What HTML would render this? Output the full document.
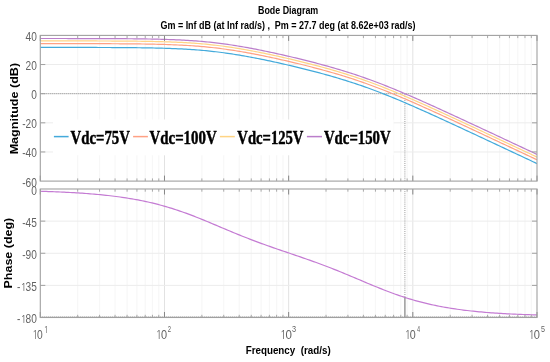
<!DOCTYPE html>
<html><head><meta charset="utf-8"><title>Bode Diagram</title>
<style>html,body{margin:0;padding:0;background:#fff;overflow:hidden}svg{display:block}</style>
</head><body>
<svg width="550" height="362" viewBox="0 0 550 362">
<rect width="550" height="362" fill="#fff"/>
<defs><clipPath id="c1"><rect x="40.3" y="35.4" width="496.70" height="145.70"/></clipPath><clipPath id="c2"><rect x="40.3" y="189.0" width="496.70" height="128.50"/></clipPath></defs>
<line x1="77.68" y1="35.4" x2="77.68" y2="181.1" stroke="#f7f7f7" stroke-width="1.2"/>
<line x1="99.55" y1="35.4" x2="99.55" y2="181.1" stroke="#f7f7f7" stroke-width="1.2"/>
<line x1="115.06" y1="35.4" x2="115.06" y2="181.1" stroke="#f7f7f7" stroke-width="1.2"/>
<line x1="127.09" y1="35.4" x2="127.09" y2="181.1" stroke="#f7f7f7" stroke-width="1.2"/>
<line x1="136.93" y1="35.4" x2="136.93" y2="181.1" stroke="#f7f7f7" stroke-width="1.2"/>
<line x1="145.24" y1="35.4" x2="145.24" y2="181.1" stroke="#f7f7f7" stroke-width="1.2"/>
<line x1="152.44" y1="35.4" x2="152.44" y2="181.1" stroke="#f7f7f7" stroke-width="1.2"/>
<line x1="158.79" y1="35.4" x2="158.79" y2="181.1" stroke="#f7f7f7" stroke-width="1.2"/>
<line x1="201.86" y1="35.4" x2="201.86" y2="181.1" stroke="#f7f7f7" stroke-width="1.2"/>
<line x1="223.72" y1="35.4" x2="223.72" y2="181.1" stroke="#f7f7f7" stroke-width="1.2"/>
<line x1="239.24" y1="35.4" x2="239.24" y2="181.1" stroke="#f7f7f7" stroke-width="1.2"/>
<line x1="251.27" y1="35.4" x2="251.27" y2="181.1" stroke="#f7f7f7" stroke-width="1.2"/>
<line x1="261.10" y1="35.4" x2="261.10" y2="181.1" stroke="#f7f7f7" stroke-width="1.2"/>
<line x1="269.42" y1="35.4" x2="269.42" y2="181.1" stroke="#f7f7f7" stroke-width="1.2"/>
<line x1="276.62" y1="35.4" x2="276.62" y2="181.1" stroke="#f7f7f7" stroke-width="1.2"/>
<line x1="282.97" y1="35.4" x2="282.97" y2="181.1" stroke="#f7f7f7" stroke-width="1.2"/>
<line x1="326.03" y1="35.4" x2="326.03" y2="181.1" stroke="#f7f7f7" stroke-width="1.2"/>
<line x1="347.90" y1="35.4" x2="347.90" y2="181.1" stroke="#f7f7f7" stroke-width="1.2"/>
<line x1="363.41" y1="35.4" x2="363.41" y2="181.1" stroke="#f7f7f7" stroke-width="1.2"/>
<line x1="375.44" y1="35.4" x2="375.44" y2="181.1" stroke="#f7f7f7" stroke-width="1.2"/>
<line x1="385.28" y1="35.4" x2="385.28" y2="181.1" stroke="#f7f7f7" stroke-width="1.2"/>
<line x1="393.59" y1="35.4" x2="393.59" y2="181.1" stroke="#f7f7f7" stroke-width="1.2"/>
<line x1="400.79" y1="35.4" x2="400.79" y2="181.1" stroke="#f7f7f7" stroke-width="1.2"/>
<line x1="407.14" y1="35.4" x2="407.14" y2="181.1" stroke="#f7f7f7" stroke-width="1.2"/>
<line x1="450.21" y1="35.4" x2="450.21" y2="181.1" stroke="#f7f7f7" stroke-width="1.2"/>
<line x1="472.07" y1="35.4" x2="472.07" y2="181.1" stroke="#f7f7f7" stroke-width="1.2"/>
<line x1="487.59" y1="35.4" x2="487.59" y2="181.1" stroke="#f7f7f7" stroke-width="1.2"/>
<line x1="499.62" y1="35.4" x2="499.62" y2="181.1" stroke="#f7f7f7" stroke-width="1.2"/>
<line x1="509.45" y1="35.4" x2="509.45" y2="181.1" stroke="#f7f7f7" stroke-width="1.2"/>
<line x1="517.77" y1="35.4" x2="517.77" y2="181.1" stroke="#f7f7f7" stroke-width="1.2"/>
<line x1="524.97" y1="35.4" x2="524.97" y2="181.1" stroke="#f7f7f7" stroke-width="1.2"/>
<line x1="531.32" y1="35.4" x2="531.32" y2="181.1" stroke="#f7f7f7" stroke-width="1.2"/>
<line x1="164.47" y1="35.4" x2="164.47" y2="181.1" stroke="#e2e2e2" stroke-width="1"/>
<line x1="288.65" y1="35.4" x2="288.65" y2="181.1" stroke="#e2e2e2" stroke-width="1"/>
<line x1="412.82" y1="35.4" x2="412.82" y2="181.1" stroke="#e2e2e2" stroke-width="1"/>
<line x1="40.3" y1="64.54" x2="537.0" y2="64.54" stroke="#ececec" stroke-width="1"/>
<line x1="40.3" y1="93.68" x2="537.0" y2="93.68" stroke="#ececec" stroke-width="1"/>
<line x1="40.3" y1="122.82" x2="537.0" y2="122.82" stroke="#ececec" stroke-width="1"/>
<line x1="40.3" y1="151.96" x2="537.0" y2="151.96" stroke="#ececec" stroke-width="1"/>
<line x1="77.68" y1="189.0" x2="77.68" y2="317.5" stroke="#f7f7f7" stroke-width="1.2"/>
<line x1="99.55" y1="189.0" x2="99.55" y2="317.5" stroke="#f7f7f7" stroke-width="1.2"/>
<line x1="115.06" y1="189.0" x2="115.06" y2="317.5" stroke="#f7f7f7" stroke-width="1.2"/>
<line x1="127.09" y1="189.0" x2="127.09" y2="317.5" stroke="#f7f7f7" stroke-width="1.2"/>
<line x1="136.93" y1="189.0" x2="136.93" y2="317.5" stroke="#f7f7f7" stroke-width="1.2"/>
<line x1="145.24" y1="189.0" x2="145.24" y2="317.5" stroke="#f7f7f7" stroke-width="1.2"/>
<line x1="152.44" y1="189.0" x2="152.44" y2="317.5" stroke="#f7f7f7" stroke-width="1.2"/>
<line x1="158.79" y1="189.0" x2="158.79" y2="317.5" stroke="#f7f7f7" stroke-width="1.2"/>
<line x1="201.86" y1="189.0" x2="201.86" y2="317.5" stroke="#f7f7f7" stroke-width="1.2"/>
<line x1="223.72" y1="189.0" x2="223.72" y2="317.5" stroke="#f7f7f7" stroke-width="1.2"/>
<line x1="239.24" y1="189.0" x2="239.24" y2="317.5" stroke="#f7f7f7" stroke-width="1.2"/>
<line x1="251.27" y1="189.0" x2="251.27" y2="317.5" stroke="#f7f7f7" stroke-width="1.2"/>
<line x1="261.10" y1="189.0" x2="261.10" y2="317.5" stroke="#f7f7f7" stroke-width="1.2"/>
<line x1="269.42" y1="189.0" x2="269.42" y2="317.5" stroke="#f7f7f7" stroke-width="1.2"/>
<line x1="276.62" y1="189.0" x2="276.62" y2="317.5" stroke="#f7f7f7" stroke-width="1.2"/>
<line x1="282.97" y1="189.0" x2="282.97" y2="317.5" stroke="#f7f7f7" stroke-width="1.2"/>
<line x1="326.03" y1="189.0" x2="326.03" y2="317.5" stroke="#f7f7f7" stroke-width="1.2"/>
<line x1="347.90" y1="189.0" x2="347.90" y2="317.5" stroke="#f7f7f7" stroke-width="1.2"/>
<line x1="363.41" y1="189.0" x2="363.41" y2="317.5" stroke="#f7f7f7" stroke-width="1.2"/>
<line x1="375.44" y1="189.0" x2="375.44" y2="317.5" stroke="#f7f7f7" stroke-width="1.2"/>
<line x1="385.28" y1="189.0" x2="385.28" y2="317.5" stroke="#f7f7f7" stroke-width="1.2"/>
<line x1="393.59" y1="189.0" x2="393.59" y2="317.5" stroke="#f7f7f7" stroke-width="1.2"/>
<line x1="400.79" y1="189.0" x2="400.79" y2="317.5" stroke="#f7f7f7" stroke-width="1.2"/>
<line x1="407.14" y1="189.0" x2="407.14" y2="317.5" stroke="#f7f7f7" stroke-width="1.2"/>
<line x1="450.21" y1="189.0" x2="450.21" y2="317.5" stroke="#f7f7f7" stroke-width="1.2"/>
<line x1="472.07" y1="189.0" x2="472.07" y2="317.5" stroke="#f7f7f7" stroke-width="1.2"/>
<line x1="487.59" y1="189.0" x2="487.59" y2="317.5" stroke="#f7f7f7" stroke-width="1.2"/>
<line x1="499.62" y1="189.0" x2="499.62" y2="317.5" stroke="#f7f7f7" stroke-width="1.2"/>
<line x1="509.45" y1="189.0" x2="509.45" y2="317.5" stroke="#f7f7f7" stroke-width="1.2"/>
<line x1="517.77" y1="189.0" x2="517.77" y2="317.5" stroke="#f7f7f7" stroke-width="1.2"/>
<line x1="524.97" y1="189.0" x2="524.97" y2="317.5" stroke="#f7f7f7" stroke-width="1.2"/>
<line x1="531.32" y1="189.0" x2="531.32" y2="317.5" stroke="#f7f7f7" stroke-width="1.2"/>
<line x1="164.47" y1="189.0" x2="164.47" y2="317.5" stroke="#e2e2e2" stroke-width="1"/>
<line x1="288.65" y1="189.0" x2="288.65" y2="317.5" stroke="#e2e2e2" stroke-width="1"/>
<line x1="412.82" y1="189.0" x2="412.82" y2="317.5" stroke="#e2e2e2" stroke-width="1"/>
<line x1="40.3" y1="221.12" x2="537.0" y2="221.12" stroke="#ececec" stroke-width="1"/>
<line x1="40.3" y1="253.25" x2="537.0" y2="253.25" stroke="#ececec" stroke-width="1"/>
<line x1="40.3" y1="285.38" x2="537.0" y2="285.38" stroke="#ececec" stroke-width="1"/>
<line x1="40.3" y1="93.68" x2="537.0" y2="93.68" stroke="#8a8a8a" stroke-width="1" stroke-dasharray="1,1"/>
<line x1="404.9" y1="93.68" x2="404.9" y2="181.1" stroke="#999" stroke-width="1" stroke-dasharray="1,1.1"/>
<line x1="404.9" y1="189.0" x2="404.9" y2="297.73" stroke="#999" stroke-width="1" stroke-dasharray="1,1.1"/>
<line x1="40.3" y1="316.9" x2="537.0" y2="316.9" stroke="#8a8a8a" stroke-width="1" stroke-dasharray="1,1"/>
<g clip-path="url(#c1)" fill="none" stroke-width="1.2">
<polyline points="40.30,47.41 42.29,47.41 44.29,47.41 46.28,47.41 48.28,47.41 50.27,47.41 52.27,47.41 54.26,47.42 56.26,47.42 58.25,47.42 60.25,47.42 62.24,47.42 64.24,47.42 66.23,47.42 68.23,47.43 70.22,47.43 72.22,47.43 74.21,47.43 76.21,47.44 78.20,47.44 80.20,47.44 82.19,47.44 84.19,47.45 86.18,47.45 88.17,47.45 90.17,47.46 92.16,47.46 94.16,47.47 96.15,47.47 98.15,47.48 100.14,47.49 102.14,47.49 104.13,47.50 106.13,47.51 108.12,47.51 110.12,47.52 112.11,47.53 114.11,47.54 116.10,47.55 118.10,47.57 120.09,47.58 122.09,47.59 124.08,47.61 126.08,47.62 128.07,47.64 130.07,47.66 132.06,47.67 134.05,47.70 136.05,47.72 138.04,47.74 140.04,47.77 142.03,47.79 144.03,47.82 146.02,47.85 148.02,47.89 150.01,47.92 152.01,47.96 154.00,48.00 156.00,48.05 157.99,48.10 159.99,48.15 161.98,48.20 163.98,48.26 165.97,48.32 167.97,48.38 169.96,48.45 171.96,48.53 173.95,48.61 175.94,48.69 177.94,48.78 179.93,48.87 181.93,48.97 183.92,49.08 185.92,49.19 187.91,49.31 189.91,49.44 191.90,49.57 193.90,49.71 195.89,49.86 197.89,50.01 199.88,50.17 201.88,50.34 203.87,50.52 205.87,50.71 207.86,50.90 209.86,51.11 211.85,51.32 213.85,51.54 215.84,51.77 217.84,52.01 219.83,52.26 221.82,52.52 223.82,52.78 225.81,53.05 227.81,53.34 229.80,53.63 231.80,53.93 233.79,54.23 235.79,54.55 237.78,54.87 239.78,55.21 241.77,55.54 243.77,55.89 245.76,56.24 247.76,56.60 249.75,56.97 251.75,57.34 253.74,57.72 255.74,58.11 257.73,58.50 259.73,58.90 261.72,59.30 263.72,59.71 265.71,60.12 267.70,60.54 269.70,60.96 271.69,61.39 273.69,61.82 275.68,62.26 277.68,62.70 279.67,63.14 281.67,63.59 283.66,64.05 285.66,64.50 287.65,64.97 289.65,65.43 291.64,65.90 293.64,66.37 295.63,66.85 297.63,67.33 299.62,67.82 301.62,68.31 303.61,68.80 305.61,69.30 307.60,69.81 309.60,70.32 311.59,70.83 313.58,71.35 315.58,71.87 317.57,72.40 319.57,72.93 321.56,73.47 323.56,74.02 325.55,74.57 327.55,75.12 329.54,75.69 331.54,76.26 333.53,76.83 335.53,77.41 337.52,78.00 339.52,78.60 341.51,79.20 343.51,79.82 345.50,80.43 347.50,81.06 349.49,81.70 351.49,82.34 353.48,82.99 355.48,83.66 357.47,84.32 359.46,85.00 361.46,85.69 363.45,86.39 365.45,87.09 367.44,87.80 369.44,88.53 371.43,89.26 373.43,90.00 375.42,90.74 377.42,91.50 379.41,92.26 381.41,93.04 383.40,93.82 385.40,94.61 387.39,95.40 389.39,96.20 391.38,97.01 393.38,97.83 395.37,98.65 397.37,99.48 399.36,100.32 401.36,101.16 403.35,102.01 405.34,102.86 407.34,103.72 409.33,104.58 411.33,105.45 413.32,106.32 415.32,107.20 417.31,108.08 419.31,108.96 421.30,109.85 423.30,110.74 425.29,111.63 427.29,112.52 429.28,113.42 431.28,114.33 433.27,115.23 435.27,116.14 437.26,117.04 439.26,117.96 441.25,118.87 443.25,119.78 445.24,120.70 447.23,121.62 449.23,122.53 451.22,123.45 453.22,124.38 455.21,125.30 457.21,126.22 459.20,127.15 461.20,128.07 463.19,129.00 465.19,129.93 467.18,130.86 469.18,131.78 471.17,132.71 473.17,133.64 475.16,134.58 477.16,135.51 479.15,136.44 481.15,137.37 483.14,138.30 485.14,139.24 487.13,140.17 489.13,141.11 491.12,142.04 493.11,142.98 495.11,143.91 497.10,144.85 499.10,145.78 501.09,146.72 503.09,147.65 505.08,148.59 507.08,149.53 509.07,150.46 511.07,151.40 513.06,152.34 515.06,153.27 517.05,154.21 519.05,155.15 521.04,156.08 523.04,157.02 525.03,157.96 527.03,158.90 529.02,159.83 531.02,160.77 533.01,161.71 535.01,162.65 537.00,163.59" stroke="#44aadb"/>
<polyline points="40.30,43.61 42.29,43.61 44.29,43.61 46.28,43.61 48.28,43.61 50.27,43.61 52.27,43.61 54.26,43.62 56.26,43.62 58.25,43.62 60.25,43.62 62.24,43.62 64.24,43.62 66.23,43.62 68.23,43.63 70.22,43.63 72.22,43.63 74.21,43.63 76.21,43.64 78.20,43.64 80.20,43.64 82.19,43.64 84.19,43.65 86.18,43.65 88.17,43.65 90.17,43.66 92.16,43.66 94.16,43.67 96.15,43.67 98.15,43.68 100.14,43.69 102.14,43.69 104.13,43.70 106.13,43.71 108.12,43.71 110.12,43.72 112.11,43.73 114.11,43.74 116.10,43.75 118.10,43.77 120.09,43.78 122.09,43.79 124.08,43.81 126.08,43.82 128.07,43.84 130.07,43.86 132.06,43.87 134.05,43.90 136.05,43.92 138.04,43.94 140.04,43.97 142.03,43.99 144.03,44.02 146.02,44.05 148.02,44.09 150.01,44.12 152.01,44.16 154.00,44.20 156.00,44.25 157.99,44.30 159.99,44.35 161.98,44.40 163.98,44.46 165.97,44.52 167.97,44.58 169.96,44.65 171.96,44.73 173.95,44.81 175.94,44.89 177.94,44.98 179.93,45.07 181.93,45.17 183.92,45.28 185.92,45.39 187.91,45.51 189.91,45.64 191.90,45.77 193.90,45.91 195.89,46.06 197.89,46.21 199.88,46.37 201.88,46.54 203.87,46.72 205.87,46.91 207.86,47.10 209.86,47.31 211.85,47.52 213.85,47.74 215.84,47.97 217.84,48.21 219.83,48.46 221.82,48.72 223.82,48.98 225.81,49.25 227.81,49.54 229.80,49.83 231.80,50.13 233.79,50.43 235.79,50.75 237.78,51.07 239.78,51.41 241.77,51.74 243.77,52.09 245.76,52.44 247.76,52.80 249.75,53.17 251.75,53.54 253.74,53.92 255.74,54.31 257.73,54.70 259.73,55.10 261.72,55.50 263.72,55.91 265.71,56.32 267.70,56.74 269.70,57.16 271.69,57.59 273.69,58.02 275.68,58.46 277.68,58.90 279.67,59.34 281.67,59.79 283.66,60.25 285.66,60.70 287.65,61.17 289.65,61.63 291.64,62.10 293.64,62.57 295.63,63.05 297.63,63.53 299.62,64.02 301.62,64.51 303.61,65.00 305.61,65.50 307.60,66.01 309.60,66.52 311.59,67.03 313.58,67.55 315.58,68.07 317.57,68.60 319.57,69.13 321.56,69.67 323.56,70.22 325.55,70.77 327.55,71.32 329.54,71.89 331.54,72.46 333.53,73.03 335.53,73.61 337.52,74.20 339.52,74.80 341.51,75.40 343.51,76.02 345.50,76.63 347.50,77.26 349.49,77.90 351.49,78.54 353.48,79.19 355.48,79.86 357.47,80.52 359.46,81.20 361.46,81.89 363.45,82.59 365.45,83.29 367.44,84.00 369.44,84.73 371.43,85.46 373.43,86.20 375.42,86.94 377.42,87.70 379.41,88.46 381.41,89.24 383.40,90.02 385.40,90.81 387.39,91.60 389.39,92.40 391.38,93.21 393.38,94.03 395.37,94.85 397.37,95.68 399.36,96.52 401.36,97.36 403.35,98.21 405.34,99.06 407.34,99.92 409.33,100.78 411.33,101.65 413.32,102.52 415.32,103.40 417.31,104.28 419.31,105.16 421.30,106.05 423.30,106.94 425.29,107.83 427.29,108.72 429.28,109.62 431.28,110.53 433.27,111.43 435.27,112.34 437.26,113.24 439.26,114.16 441.25,115.07 443.25,115.98 445.24,116.90 447.23,117.82 449.23,118.73 451.22,119.65 453.22,120.58 455.21,121.50 457.21,122.42 459.20,123.35 461.20,124.27 463.19,125.20 465.19,126.13 467.18,127.06 469.18,127.98 471.17,128.91 473.17,129.84 475.16,130.78 477.16,131.71 479.15,132.64 481.15,133.57 483.14,134.50 485.14,135.44 487.13,136.37 489.13,137.31 491.12,138.24 493.11,139.18 495.11,140.11 497.10,141.05 499.10,141.98 501.09,142.92 503.09,143.85 505.08,144.79 507.08,145.73 509.07,146.66 511.07,147.60 513.06,148.54 515.06,149.47 517.05,150.41 519.05,151.35 521.04,152.28 523.04,153.22 525.03,154.16 527.03,155.10 529.02,156.03 531.02,156.97 533.01,157.91 535.01,158.85 537.00,159.79" stroke="#ffa184"/>
<polyline points="40.30,40.91 42.29,40.91 44.29,40.91 46.28,40.91 48.28,40.91 50.27,40.91 52.27,40.91 54.26,40.92 56.26,40.92 58.25,40.92 60.25,40.92 62.24,40.92 64.24,40.92 66.23,40.92 68.23,40.93 70.22,40.93 72.22,40.93 74.21,40.93 76.21,40.94 78.20,40.94 80.20,40.94 82.19,40.94 84.19,40.95 86.18,40.95 88.17,40.95 90.17,40.96 92.16,40.96 94.16,40.97 96.15,40.97 98.15,40.98 100.14,40.99 102.14,40.99 104.13,41.00 106.13,41.01 108.12,41.01 110.12,41.02 112.11,41.03 114.11,41.04 116.10,41.05 118.10,41.07 120.09,41.08 122.09,41.09 124.08,41.11 126.08,41.12 128.07,41.14 130.07,41.16 132.06,41.17 134.05,41.20 136.05,41.22 138.04,41.24 140.04,41.27 142.03,41.29 144.03,41.32 146.02,41.35 148.02,41.39 150.01,41.42 152.01,41.46 154.00,41.50 156.00,41.55 157.99,41.60 159.99,41.65 161.98,41.70 163.98,41.76 165.97,41.82 167.97,41.88 169.96,41.95 171.96,42.03 173.95,42.11 175.94,42.19 177.94,42.28 179.93,42.37 181.93,42.47 183.92,42.58 185.92,42.69 187.91,42.81 189.91,42.94 191.90,43.07 193.90,43.21 195.89,43.36 197.89,43.51 199.88,43.67 201.88,43.84 203.87,44.02 205.87,44.21 207.86,44.40 209.86,44.61 211.85,44.82 213.85,45.04 215.84,45.27 217.84,45.51 219.83,45.76 221.82,46.02 223.82,46.28 225.81,46.55 227.81,46.84 229.80,47.13 231.80,47.43 233.79,47.73 235.79,48.05 237.78,48.37 239.78,48.71 241.77,49.04 243.77,49.39 245.76,49.74 247.76,50.10 249.75,50.47 251.75,50.84 253.74,51.22 255.74,51.61 257.73,52.00 259.73,52.40 261.72,52.80 263.72,53.21 265.71,53.62 267.70,54.04 269.70,54.46 271.69,54.89 273.69,55.32 275.68,55.76 277.68,56.20 279.67,56.64 281.67,57.09 283.66,57.55 285.66,58.00 287.65,58.47 289.65,58.93 291.64,59.40 293.64,59.87 295.63,60.35 297.63,60.83 299.62,61.32 301.62,61.81 303.61,62.30 305.61,62.80 307.60,63.31 309.60,63.82 311.59,64.33 313.58,64.85 315.58,65.37 317.57,65.90 319.57,66.43 321.56,66.97 323.56,67.52 325.55,68.07 327.55,68.62 329.54,69.19 331.54,69.76 333.53,70.33 335.53,70.91 337.52,71.50 339.52,72.10 341.51,72.70 343.51,73.32 345.50,73.93 347.50,74.56 349.49,75.20 351.49,75.84 353.48,76.49 355.48,77.16 357.47,77.82 359.46,78.50 361.46,79.19 363.45,79.89 365.45,80.59 367.44,81.30 369.44,82.03 371.43,82.76 373.43,83.50 375.42,84.24 377.42,85.00 379.41,85.76 381.41,86.54 383.40,87.32 385.40,88.11 387.39,88.90 389.39,89.70 391.38,90.51 393.38,91.33 395.37,92.15 397.37,92.98 399.36,93.82 401.36,94.66 403.35,95.51 405.34,96.36 407.34,97.22 409.33,98.08 411.33,98.95 413.32,99.82 415.32,100.70 417.31,101.58 419.31,102.46 421.30,103.35 423.30,104.24 425.29,105.13 427.29,106.02 429.28,106.92 431.28,107.83 433.27,108.73 435.27,109.64 437.26,110.54 439.26,111.46 441.25,112.37 443.25,113.28 445.24,114.20 447.23,115.12 449.23,116.03 451.22,116.95 453.22,117.88 455.21,118.80 457.21,119.72 459.20,120.65 461.20,121.57 463.19,122.50 465.19,123.43 467.18,124.36 469.18,125.28 471.17,126.21 473.17,127.14 475.16,128.08 477.16,129.01 479.15,129.94 481.15,130.87 483.14,131.80 485.14,132.74 487.13,133.67 489.13,134.61 491.12,135.54 493.11,136.48 495.11,137.41 497.10,138.35 499.10,139.28 501.09,140.22 503.09,141.15 505.08,142.09 507.08,143.03 509.07,143.96 511.07,144.90 513.06,145.84 515.06,146.77 517.05,147.71 519.05,148.65 521.04,149.58 523.04,150.52 525.03,151.46 527.03,152.40 529.02,153.33 531.02,154.27 533.01,155.21 535.01,156.15 537.00,157.09" stroke="#ffd484"/>
<polyline points="40.30,38.51 42.29,38.51 44.29,38.51 46.28,38.51 48.28,38.51 50.27,38.51 52.27,38.51 54.26,38.52 56.26,38.52 58.25,38.52 60.25,38.52 62.24,38.52 64.24,38.52 66.23,38.52 68.23,38.53 70.22,38.53 72.22,38.53 74.21,38.53 76.21,38.54 78.20,38.54 80.20,38.54 82.19,38.54 84.19,38.55 86.18,38.55 88.17,38.55 90.17,38.56 92.16,38.56 94.16,38.57 96.15,38.57 98.15,38.58 100.14,38.59 102.14,38.59 104.13,38.60 106.13,38.61 108.12,38.61 110.12,38.62 112.11,38.63 114.11,38.64 116.10,38.65 118.10,38.67 120.09,38.68 122.09,38.69 124.08,38.71 126.08,38.72 128.07,38.74 130.07,38.76 132.06,38.77 134.05,38.80 136.05,38.82 138.04,38.84 140.04,38.87 142.03,38.89 144.03,38.92 146.02,38.95 148.02,38.99 150.01,39.02 152.01,39.06 154.00,39.10 156.00,39.15 157.99,39.20 159.99,39.25 161.98,39.30 163.98,39.36 165.97,39.42 167.97,39.48 169.96,39.55 171.96,39.63 173.95,39.71 175.94,39.79 177.94,39.88 179.93,39.97 181.93,40.07 183.92,40.18 185.92,40.29 187.91,40.41 189.91,40.54 191.90,40.67 193.90,40.81 195.89,40.96 197.89,41.11 199.88,41.27 201.88,41.44 203.87,41.62 205.87,41.81 207.86,42.00 209.86,42.21 211.85,42.42 213.85,42.64 215.84,42.87 217.84,43.11 219.83,43.36 221.82,43.62 223.82,43.88 225.81,44.15 227.81,44.44 229.80,44.73 231.80,45.03 233.79,45.33 235.79,45.65 237.78,45.97 239.78,46.31 241.77,46.64 243.77,46.99 245.76,47.34 247.76,47.70 249.75,48.07 251.75,48.44 253.74,48.82 255.74,49.21 257.73,49.60 259.73,50.00 261.72,50.40 263.72,50.81 265.71,51.22 267.70,51.64 269.70,52.06 271.69,52.49 273.69,52.92 275.68,53.36 277.68,53.80 279.67,54.24 281.67,54.69 283.66,55.15 285.66,55.60 287.65,56.07 289.65,56.53 291.64,57.00 293.64,57.47 295.63,57.95 297.63,58.43 299.62,58.92 301.62,59.41 303.61,59.90 305.61,60.40 307.60,60.90 309.60,61.41 311.59,61.92 313.58,62.43 315.58,62.95 317.57,63.48 319.57,64.01 321.56,64.55 323.56,65.09 325.55,65.64 327.55,66.19 329.54,66.75 331.54,67.32 333.53,67.89 335.53,68.47 337.52,69.06 339.52,69.65 341.51,70.25 343.51,70.86 345.50,71.48 347.50,72.10 349.49,72.74 351.49,73.38 353.48,74.03 355.48,74.68 357.47,75.35 359.46,76.03 361.46,76.71 363.45,77.41 365.45,78.11 367.44,78.82 369.44,79.54 371.43,80.27 373.43,81.00 375.42,81.75 377.42,82.50 379.41,83.26 381.41,84.03 383.40,84.81 385.40,85.60 387.39,86.39 389.39,87.19 391.38,88.00 393.38,88.81 395.37,89.63 397.37,90.46 399.36,91.29 401.36,92.13 403.35,92.98 405.34,93.83 407.34,94.68 409.33,95.54 411.33,96.41 413.32,97.28 415.32,98.15 417.31,99.03 419.31,99.91 421.30,100.79 423.30,101.68 425.29,102.57 427.29,103.46 429.28,104.36 431.28,105.26 433.27,106.16 435.27,107.06 437.26,107.97 439.26,108.88 441.25,109.79 443.25,110.70 445.24,111.61 447.23,112.53 449.23,113.45 451.22,114.36 453.22,115.28 455.21,116.20 457.21,117.12 459.20,118.05 461.20,118.97 463.19,119.89 465.19,120.82 467.18,121.74 469.18,122.67 471.17,123.60 473.17,124.53 475.16,125.45 477.16,126.38 479.15,127.31 481.15,128.24 483.14,129.17 485.14,130.10 487.13,131.04 489.13,131.97 491.12,132.90 493.11,133.83 495.11,134.76 497.10,135.70 499.10,136.63 501.09,137.56 503.09,138.50 505.08,139.43 507.08,140.36 509.07,141.30 511.07,142.23 513.06,143.17 515.06,144.10 517.05,145.03 519.05,145.97 521.04,146.90 523.04,147.84 525.03,148.77 527.03,149.71 529.02,150.64 531.02,151.58 533.01,152.51 535.01,153.45 537.00,154.39" stroke="#bb7ecb"/>
</g>
<g clip-path="url(#c2)" fill="none" stroke-width="1.2"><polyline points="40.30,191.27 42.29,191.33 44.29,191.40 46.28,191.46 48.28,191.53 50.27,191.60 52.27,191.67 54.26,191.75 56.26,191.83 58.25,191.91 60.25,192.00 62.24,192.09 64.24,192.18 66.23,192.28 68.23,192.38 70.22,192.49 72.22,192.60 74.21,192.72 76.21,192.84 78.20,192.96 80.20,193.09 82.19,193.22 84.19,193.36 86.18,193.51 88.17,193.66 90.17,193.82 92.16,193.98 94.16,194.15 96.15,194.32 98.15,194.50 100.14,194.69 102.14,194.89 104.13,195.09 106.13,195.31 108.12,195.52 110.12,195.75 112.11,195.99 114.11,196.23 116.10,196.49 118.10,196.75 120.09,197.02 122.09,197.31 124.08,197.60 126.08,197.90 128.07,198.22 130.07,198.54 132.06,198.88 134.05,199.23 136.05,199.59 138.04,199.96 140.04,200.35 142.03,200.74 144.03,201.16 146.02,201.58 148.02,202.02 150.01,202.47 152.01,202.94 154.00,203.42 156.00,203.92 157.99,204.43 159.99,204.96 161.98,205.50 163.98,206.05 165.97,206.63 167.97,207.21 169.96,207.82 171.96,208.43 173.95,209.07 175.94,209.71 177.94,210.38 179.93,211.06 181.93,211.75 183.92,212.45 185.92,213.17 187.91,213.91 189.91,214.65 191.90,215.41 193.90,216.18 195.89,216.96 197.89,217.75 199.88,218.55 201.88,219.36 203.87,220.17 205.87,220.99 207.86,221.82 209.86,222.65 211.85,223.49 213.85,224.33 215.84,225.17 217.84,226.02 219.83,226.86 221.82,227.70 223.82,228.54 225.81,229.38 227.81,230.22 229.80,231.06 231.80,231.88 233.79,232.71 235.79,233.53 237.78,234.34 239.78,235.15 241.77,235.95 243.77,236.74 245.76,237.53 247.76,238.31 249.75,239.08 251.75,239.85 253.74,240.61 255.74,241.36 257.73,242.10 259.73,242.84 261.72,243.57 263.72,244.29 265.71,245.01 267.70,245.72 269.70,246.42 271.69,247.12 273.69,247.82 275.68,248.51 277.68,249.20 279.67,249.89 281.67,250.57 283.66,251.25 285.66,251.93 287.65,252.61 289.65,253.29 291.64,253.97 293.64,254.64 295.63,255.32 297.63,256.01 299.62,256.69 301.62,257.38 303.61,258.07 305.61,258.76 307.60,259.46 309.60,260.16 311.59,260.87 313.58,261.59 315.58,262.31 317.57,263.03 319.57,263.77 321.56,264.50 323.56,265.25 325.55,266.01 327.55,266.77 329.54,267.54 331.54,268.31 333.53,269.09 335.53,269.88 337.52,270.68 339.52,271.49 341.51,272.30 343.51,273.11 345.50,273.94 347.50,274.76 349.49,275.60 351.49,276.43 353.48,277.27 355.48,278.11 357.47,278.96 359.46,279.80 361.46,280.65 363.45,281.49 365.45,282.34 367.44,283.18 369.44,284.02 371.43,284.85 373.43,285.68 375.42,286.50 377.42,287.31 379.41,288.12 381.41,288.92 383.40,289.71 385.40,290.48 387.39,291.25 389.39,292.01 391.38,292.75 393.38,293.48 395.37,294.20 397.37,294.90 399.36,295.59 401.36,296.27 403.35,296.93 405.34,297.57 407.34,298.20 409.33,298.81 411.33,299.41 413.32,300.00 415.32,300.57 417.31,301.12 419.31,301.66 421.30,302.18 423.30,302.69 425.29,303.18 427.29,303.66 429.28,304.12 431.28,304.57 433.27,305.00 435.27,305.42 437.26,305.83 439.26,306.23 441.25,306.61 443.25,306.98 445.24,307.33 447.23,307.68 449.23,308.01 451.22,308.33 453.22,308.64 455.21,308.94 457.21,309.23 459.20,309.51 461.20,309.78 463.19,310.03 465.19,310.28 467.18,310.52 469.18,310.76 471.17,310.98 473.17,311.19 475.16,311.40 477.16,311.60 479.15,311.79 481.15,311.97 483.14,312.15 485.14,312.32 487.13,312.48 489.13,312.63 491.12,312.78 493.11,312.93 495.11,313.06 497.10,313.20 499.10,313.32 501.09,313.44 503.09,313.56 505.08,313.67 507.08,313.78 509.07,313.88 511.07,313.98 513.06,314.07 515.06,314.16 517.05,314.25 519.05,314.33 521.04,314.40 523.04,314.48 525.03,314.55 527.03,314.62 529.02,314.68 531.02,314.74 533.01,314.80 535.01,314.85 537.00,314.91" stroke="#c47bd3"/></g>
<line x1="404.9" y1="297.73" x2="404.9" y2="317.5" stroke="#8a8a8a" stroke-width="1.3"/>
<line x1="40.30" y1="181.1" x2="40.30" y2="175.6" stroke="#858585" stroke-width="1"/>
<line x1="40.30" y1="35.4" x2="40.30" y2="40.9" stroke="#858585" stroke-width="1"/>
<line x1="164.47" y1="181.1" x2="164.47" y2="175.6" stroke="#858585" stroke-width="1"/>
<line x1="164.47" y1="35.4" x2="164.47" y2="40.9" stroke="#858585" stroke-width="1"/>
<line x1="288.65" y1="181.1" x2="288.65" y2="175.6" stroke="#858585" stroke-width="1"/>
<line x1="288.65" y1="35.4" x2="288.65" y2="40.9" stroke="#858585" stroke-width="1"/>
<line x1="412.82" y1="181.1" x2="412.82" y2="175.6" stroke="#858585" stroke-width="1"/>
<line x1="412.82" y1="35.4" x2="412.82" y2="40.9" stroke="#858585" stroke-width="1"/>
<line x1="537.00" y1="181.1" x2="537.00" y2="175.6" stroke="#858585" stroke-width="1"/>
<line x1="537.00" y1="35.4" x2="537.00" y2="40.9" stroke="#858585" stroke-width="1"/>
<line x1="77.68" y1="181.1" x2="77.68" y2="178.4" stroke="#a0a0a0" stroke-width="0.9"/>
<line x1="77.68" y1="35.4" x2="77.68" y2="38.1" stroke="#a0a0a0" stroke-width="0.9"/>
<line x1="99.55" y1="181.1" x2="99.55" y2="178.4" stroke="#a0a0a0" stroke-width="0.9"/>
<line x1="99.55" y1="35.4" x2="99.55" y2="38.1" stroke="#a0a0a0" stroke-width="0.9"/>
<line x1="115.06" y1="181.1" x2="115.06" y2="178.4" stroke="#a0a0a0" stroke-width="0.9"/>
<line x1="115.06" y1="35.4" x2="115.06" y2="38.1" stroke="#a0a0a0" stroke-width="0.9"/>
<line x1="127.09" y1="181.1" x2="127.09" y2="178.4" stroke="#a0a0a0" stroke-width="0.9"/>
<line x1="127.09" y1="35.4" x2="127.09" y2="38.1" stroke="#a0a0a0" stroke-width="0.9"/>
<line x1="136.93" y1="181.1" x2="136.93" y2="178.4" stroke="#a0a0a0" stroke-width="0.9"/>
<line x1="136.93" y1="35.4" x2="136.93" y2="38.1" stroke="#a0a0a0" stroke-width="0.9"/>
<line x1="145.24" y1="181.1" x2="145.24" y2="178.4" stroke="#a0a0a0" stroke-width="0.9"/>
<line x1="145.24" y1="35.4" x2="145.24" y2="38.1" stroke="#a0a0a0" stroke-width="0.9"/>
<line x1="152.44" y1="181.1" x2="152.44" y2="178.4" stroke="#a0a0a0" stroke-width="0.9"/>
<line x1="152.44" y1="35.4" x2="152.44" y2="38.1" stroke="#a0a0a0" stroke-width="0.9"/>
<line x1="158.79" y1="181.1" x2="158.79" y2="178.4" stroke="#a0a0a0" stroke-width="0.9"/>
<line x1="158.79" y1="35.4" x2="158.79" y2="38.1" stroke="#a0a0a0" stroke-width="0.9"/>
<line x1="201.86" y1="181.1" x2="201.86" y2="178.4" stroke="#a0a0a0" stroke-width="0.9"/>
<line x1="201.86" y1="35.4" x2="201.86" y2="38.1" stroke="#a0a0a0" stroke-width="0.9"/>
<line x1="223.72" y1="181.1" x2="223.72" y2="178.4" stroke="#a0a0a0" stroke-width="0.9"/>
<line x1="223.72" y1="35.4" x2="223.72" y2="38.1" stroke="#a0a0a0" stroke-width="0.9"/>
<line x1="239.24" y1="181.1" x2="239.24" y2="178.4" stroke="#a0a0a0" stroke-width="0.9"/>
<line x1="239.24" y1="35.4" x2="239.24" y2="38.1" stroke="#a0a0a0" stroke-width="0.9"/>
<line x1="251.27" y1="181.1" x2="251.27" y2="178.4" stroke="#a0a0a0" stroke-width="0.9"/>
<line x1="251.27" y1="35.4" x2="251.27" y2="38.1" stroke="#a0a0a0" stroke-width="0.9"/>
<line x1="261.10" y1="181.1" x2="261.10" y2="178.4" stroke="#a0a0a0" stroke-width="0.9"/>
<line x1="261.10" y1="35.4" x2="261.10" y2="38.1" stroke="#a0a0a0" stroke-width="0.9"/>
<line x1="269.42" y1="181.1" x2="269.42" y2="178.4" stroke="#a0a0a0" stroke-width="0.9"/>
<line x1="269.42" y1="35.4" x2="269.42" y2="38.1" stroke="#a0a0a0" stroke-width="0.9"/>
<line x1="276.62" y1="181.1" x2="276.62" y2="178.4" stroke="#a0a0a0" stroke-width="0.9"/>
<line x1="276.62" y1="35.4" x2="276.62" y2="38.1" stroke="#a0a0a0" stroke-width="0.9"/>
<line x1="282.97" y1="181.1" x2="282.97" y2="178.4" stroke="#a0a0a0" stroke-width="0.9"/>
<line x1="282.97" y1="35.4" x2="282.97" y2="38.1" stroke="#a0a0a0" stroke-width="0.9"/>
<line x1="326.03" y1="181.1" x2="326.03" y2="178.4" stroke="#a0a0a0" stroke-width="0.9"/>
<line x1="326.03" y1="35.4" x2="326.03" y2="38.1" stroke="#a0a0a0" stroke-width="0.9"/>
<line x1="347.90" y1="181.1" x2="347.90" y2="178.4" stroke="#a0a0a0" stroke-width="0.9"/>
<line x1="347.90" y1="35.4" x2="347.90" y2="38.1" stroke="#a0a0a0" stroke-width="0.9"/>
<line x1="363.41" y1="181.1" x2="363.41" y2="178.4" stroke="#a0a0a0" stroke-width="0.9"/>
<line x1="363.41" y1="35.4" x2="363.41" y2="38.1" stroke="#a0a0a0" stroke-width="0.9"/>
<line x1="375.44" y1="181.1" x2="375.44" y2="178.4" stroke="#a0a0a0" stroke-width="0.9"/>
<line x1="375.44" y1="35.4" x2="375.44" y2="38.1" stroke="#a0a0a0" stroke-width="0.9"/>
<line x1="385.28" y1="181.1" x2="385.28" y2="178.4" stroke="#a0a0a0" stroke-width="0.9"/>
<line x1="385.28" y1="35.4" x2="385.28" y2="38.1" stroke="#a0a0a0" stroke-width="0.9"/>
<line x1="393.59" y1="181.1" x2="393.59" y2="178.4" stroke="#a0a0a0" stroke-width="0.9"/>
<line x1="393.59" y1="35.4" x2="393.59" y2="38.1" stroke="#a0a0a0" stroke-width="0.9"/>
<line x1="400.79" y1="181.1" x2="400.79" y2="178.4" stroke="#a0a0a0" stroke-width="0.9"/>
<line x1="400.79" y1="35.4" x2="400.79" y2="38.1" stroke="#a0a0a0" stroke-width="0.9"/>
<line x1="407.14" y1="181.1" x2="407.14" y2="178.4" stroke="#a0a0a0" stroke-width="0.9"/>
<line x1="407.14" y1="35.4" x2="407.14" y2="38.1" stroke="#a0a0a0" stroke-width="0.9"/>
<line x1="450.21" y1="181.1" x2="450.21" y2="178.4" stroke="#a0a0a0" stroke-width="0.9"/>
<line x1="450.21" y1="35.4" x2="450.21" y2="38.1" stroke="#a0a0a0" stroke-width="0.9"/>
<line x1="472.07" y1="181.1" x2="472.07" y2="178.4" stroke="#a0a0a0" stroke-width="0.9"/>
<line x1="472.07" y1="35.4" x2="472.07" y2="38.1" stroke="#a0a0a0" stroke-width="0.9"/>
<line x1="487.59" y1="181.1" x2="487.59" y2="178.4" stroke="#a0a0a0" stroke-width="0.9"/>
<line x1="487.59" y1="35.4" x2="487.59" y2="38.1" stroke="#a0a0a0" stroke-width="0.9"/>
<line x1="499.62" y1="181.1" x2="499.62" y2="178.4" stroke="#a0a0a0" stroke-width="0.9"/>
<line x1="499.62" y1="35.4" x2="499.62" y2="38.1" stroke="#a0a0a0" stroke-width="0.9"/>
<line x1="509.45" y1="181.1" x2="509.45" y2="178.4" stroke="#a0a0a0" stroke-width="0.9"/>
<line x1="509.45" y1="35.4" x2="509.45" y2="38.1" stroke="#a0a0a0" stroke-width="0.9"/>
<line x1="517.77" y1="181.1" x2="517.77" y2="178.4" stroke="#a0a0a0" stroke-width="0.9"/>
<line x1="517.77" y1="35.4" x2="517.77" y2="38.1" stroke="#a0a0a0" stroke-width="0.9"/>
<line x1="524.97" y1="181.1" x2="524.97" y2="178.4" stroke="#a0a0a0" stroke-width="0.9"/>
<line x1="524.97" y1="35.4" x2="524.97" y2="38.1" stroke="#a0a0a0" stroke-width="0.9"/>
<line x1="531.32" y1="181.1" x2="531.32" y2="178.4" stroke="#a0a0a0" stroke-width="0.9"/>
<line x1="531.32" y1="35.4" x2="531.32" y2="38.1" stroke="#a0a0a0" stroke-width="0.9"/>
<line x1="40.3" y1="64.54" x2="45.3" y2="64.54" stroke="#a0a0a0" stroke-width="1"/>
<line x1="532.0" y1="64.54" x2="537.0" y2="64.54" stroke="#a0a0a0" stroke-width="1"/>
<line x1="40.3" y1="93.68" x2="45.3" y2="93.68" stroke="#a0a0a0" stroke-width="1"/>
<line x1="532.0" y1="93.68" x2="537.0" y2="93.68" stroke="#a0a0a0" stroke-width="1"/>
<line x1="40.3" y1="122.82" x2="45.3" y2="122.82" stroke="#a0a0a0" stroke-width="1"/>
<line x1="532.0" y1="122.82" x2="537.0" y2="122.82" stroke="#a0a0a0" stroke-width="1"/>
<line x1="40.3" y1="151.96" x2="45.3" y2="151.96" stroke="#a0a0a0" stroke-width="1"/>
<line x1="532.0" y1="151.96" x2="537.0" y2="151.96" stroke="#a0a0a0" stroke-width="1"/>
<line x1="40.30" y1="317.5" x2="40.30" y2="312.0" stroke="#858585" stroke-width="1"/>
<line x1="40.30" y1="189.0" x2="40.30" y2="194.5" stroke="#858585" stroke-width="1"/>
<line x1="164.47" y1="317.5" x2="164.47" y2="312.0" stroke="#858585" stroke-width="1"/>
<line x1="164.47" y1="189.0" x2="164.47" y2="194.5" stroke="#858585" stroke-width="1"/>
<line x1="288.65" y1="317.5" x2="288.65" y2="312.0" stroke="#858585" stroke-width="1"/>
<line x1="288.65" y1="189.0" x2="288.65" y2="194.5" stroke="#858585" stroke-width="1"/>
<line x1="412.82" y1="317.5" x2="412.82" y2="312.0" stroke="#858585" stroke-width="1"/>
<line x1="412.82" y1="189.0" x2="412.82" y2="194.5" stroke="#858585" stroke-width="1"/>
<line x1="537.00" y1="317.5" x2="537.00" y2="312.0" stroke="#858585" stroke-width="1"/>
<line x1="537.00" y1="189.0" x2="537.00" y2="194.5" stroke="#858585" stroke-width="1"/>
<line x1="77.68" y1="317.5" x2="77.68" y2="314.8" stroke="#a0a0a0" stroke-width="0.9"/>
<line x1="77.68" y1="189.0" x2="77.68" y2="191.7" stroke="#a0a0a0" stroke-width="0.9"/>
<line x1="99.55" y1="317.5" x2="99.55" y2="314.8" stroke="#a0a0a0" stroke-width="0.9"/>
<line x1="99.55" y1="189.0" x2="99.55" y2="191.7" stroke="#a0a0a0" stroke-width="0.9"/>
<line x1="115.06" y1="317.5" x2="115.06" y2="314.8" stroke="#a0a0a0" stroke-width="0.9"/>
<line x1="115.06" y1="189.0" x2="115.06" y2="191.7" stroke="#a0a0a0" stroke-width="0.9"/>
<line x1="127.09" y1="317.5" x2="127.09" y2="314.8" stroke="#a0a0a0" stroke-width="0.9"/>
<line x1="127.09" y1="189.0" x2="127.09" y2="191.7" stroke="#a0a0a0" stroke-width="0.9"/>
<line x1="136.93" y1="317.5" x2="136.93" y2="314.8" stroke="#a0a0a0" stroke-width="0.9"/>
<line x1="136.93" y1="189.0" x2="136.93" y2="191.7" stroke="#a0a0a0" stroke-width="0.9"/>
<line x1="145.24" y1="317.5" x2="145.24" y2="314.8" stroke="#a0a0a0" stroke-width="0.9"/>
<line x1="145.24" y1="189.0" x2="145.24" y2="191.7" stroke="#a0a0a0" stroke-width="0.9"/>
<line x1="152.44" y1="317.5" x2="152.44" y2="314.8" stroke="#a0a0a0" stroke-width="0.9"/>
<line x1="152.44" y1="189.0" x2="152.44" y2="191.7" stroke="#a0a0a0" stroke-width="0.9"/>
<line x1="158.79" y1="317.5" x2="158.79" y2="314.8" stroke="#a0a0a0" stroke-width="0.9"/>
<line x1="158.79" y1="189.0" x2="158.79" y2="191.7" stroke="#a0a0a0" stroke-width="0.9"/>
<line x1="201.86" y1="317.5" x2="201.86" y2="314.8" stroke="#a0a0a0" stroke-width="0.9"/>
<line x1="201.86" y1="189.0" x2="201.86" y2="191.7" stroke="#a0a0a0" stroke-width="0.9"/>
<line x1="223.72" y1="317.5" x2="223.72" y2="314.8" stroke="#a0a0a0" stroke-width="0.9"/>
<line x1="223.72" y1="189.0" x2="223.72" y2="191.7" stroke="#a0a0a0" stroke-width="0.9"/>
<line x1="239.24" y1="317.5" x2="239.24" y2="314.8" stroke="#a0a0a0" stroke-width="0.9"/>
<line x1="239.24" y1="189.0" x2="239.24" y2="191.7" stroke="#a0a0a0" stroke-width="0.9"/>
<line x1="251.27" y1="317.5" x2="251.27" y2="314.8" stroke="#a0a0a0" stroke-width="0.9"/>
<line x1="251.27" y1="189.0" x2="251.27" y2="191.7" stroke="#a0a0a0" stroke-width="0.9"/>
<line x1="261.10" y1="317.5" x2="261.10" y2="314.8" stroke="#a0a0a0" stroke-width="0.9"/>
<line x1="261.10" y1="189.0" x2="261.10" y2="191.7" stroke="#a0a0a0" stroke-width="0.9"/>
<line x1="269.42" y1="317.5" x2="269.42" y2="314.8" stroke="#a0a0a0" stroke-width="0.9"/>
<line x1="269.42" y1="189.0" x2="269.42" y2="191.7" stroke="#a0a0a0" stroke-width="0.9"/>
<line x1="276.62" y1="317.5" x2="276.62" y2="314.8" stroke="#a0a0a0" stroke-width="0.9"/>
<line x1="276.62" y1="189.0" x2="276.62" y2="191.7" stroke="#a0a0a0" stroke-width="0.9"/>
<line x1="282.97" y1="317.5" x2="282.97" y2="314.8" stroke="#a0a0a0" stroke-width="0.9"/>
<line x1="282.97" y1="189.0" x2="282.97" y2="191.7" stroke="#a0a0a0" stroke-width="0.9"/>
<line x1="326.03" y1="317.5" x2="326.03" y2="314.8" stroke="#a0a0a0" stroke-width="0.9"/>
<line x1="326.03" y1="189.0" x2="326.03" y2="191.7" stroke="#a0a0a0" stroke-width="0.9"/>
<line x1="347.90" y1="317.5" x2="347.90" y2="314.8" stroke="#a0a0a0" stroke-width="0.9"/>
<line x1="347.90" y1="189.0" x2="347.90" y2="191.7" stroke="#a0a0a0" stroke-width="0.9"/>
<line x1="363.41" y1="317.5" x2="363.41" y2="314.8" stroke="#a0a0a0" stroke-width="0.9"/>
<line x1="363.41" y1="189.0" x2="363.41" y2="191.7" stroke="#a0a0a0" stroke-width="0.9"/>
<line x1="375.44" y1="317.5" x2="375.44" y2="314.8" stroke="#a0a0a0" stroke-width="0.9"/>
<line x1="375.44" y1="189.0" x2="375.44" y2="191.7" stroke="#a0a0a0" stroke-width="0.9"/>
<line x1="385.28" y1="317.5" x2="385.28" y2="314.8" stroke="#a0a0a0" stroke-width="0.9"/>
<line x1="385.28" y1="189.0" x2="385.28" y2="191.7" stroke="#a0a0a0" stroke-width="0.9"/>
<line x1="393.59" y1="317.5" x2="393.59" y2="314.8" stroke="#a0a0a0" stroke-width="0.9"/>
<line x1="393.59" y1="189.0" x2="393.59" y2="191.7" stroke="#a0a0a0" stroke-width="0.9"/>
<line x1="400.79" y1="317.5" x2="400.79" y2="314.8" stroke="#a0a0a0" stroke-width="0.9"/>
<line x1="400.79" y1="189.0" x2="400.79" y2="191.7" stroke="#a0a0a0" stroke-width="0.9"/>
<line x1="407.14" y1="317.5" x2="407.14" y2="314.8" stroke="#a0a0a0" stroke-width="0.9"/>
<line x1="407.14" y1="189.0" x2="407.14" y2="191.7" stroke="#a0a0a0" stroke-width="0.9"/>
<line x1="450.21" y1="317.5" x2="450.21" y2="314.8" stroke="#a0a0a0" stroke-width="0.9"/>
<line x1="450.21" y1="189.0" x2="450.21" y2="191.7" stroke="#a0a0a0" stroke-width="0.9"/>
<line x1="472.07" y1="317.5" x2="472.07" y2="314.8" stroke="#a0a0a0" stroke-width="0.9"/>
<line x1="472.07" y1="189.0" x2="472.07" y2="191.7" stroke="#a0a0a0" stroke-width="0.9"/>
<line x1="487.59" y1="317.5" x2="487.59" y2="314.8" stroke="#a0a0a0" stroke-width="0.9"/>
<line x1="487.59" y1="189.0" x2="487.59" y2="191.7" stroke="#a0a0a0" stroke-width="0.9"/>
<line x1="499.62" y1="317.5" x2="499.62" y2="314.8" stroke="#a0a0a0" stroke-width="0.9"/>
<line x1="499.62" y1="189.0" x2="499.62" y2="191.7" stroke="#a0a0a0" stroke-width="0.9"/>
<line x1="509.45" y1="317.5" x2="509.45" y2="314.8" stroke="#a0a0a0" stroke-width="0.9"/>
<line x1="509.45" y1="189.0" x2="509.45" y2="191.7" stroke="#a0a0a0" stroke-width="0.9"/>
<line x1="517.77" y1="317.5" x2="517.77" y2="314.8" stroke="#a0a0a0" stroke-width="0.9"/>
<line x1="517.77" y1="189.0" x2="517.77" y2="191.7" stroke="#a0a0a0" stroke-width="0.9"/>
<line x1="524.97" y1="317.5" x2="524.97" y2="314.8" stroke="#a0a0a0" stroke-width="0.9"/>
<line x1="524.97" y1="189.0" x2="524.97" y2="191.7" stroke="#a0a0a0" stroke-width="0.9"/>
<line x1="531.32" y1="317.5" x2="531.32" y2="314.8" stroke="#a0a0a0" stroke-width="0.9"/>
<line x1="531.32" y1="189.0" x2="531.32" y2="191.7" stroke="#a0a0a0" stroke-width="0.9"/>
<line x1="40.3" y1="221.12" x2="45.3" y2="221.12" stroke="#a0a0a0" stroke-width="1"/>
<line x1="532.0" y1="221.12" x2="537.0" y2="221.12" stroke="#a0a0a0" stroke-width="1"/>
<line x1="40.3" y1="253.25" x2="45.3" y2="253.25" stroke="#a0a0a0" stroke-width="1"/>
<line x1="532.0" y1="253.25" x2="537.0" y2="253.25" stroke="#a0a0a0" stroke-width="1"/>
<line x1="40.3" y1="285.38" x2="45.3" y2="285.38" stroke="#a0a0a0" stroke-width="1"/>
<line x1="532.0" y1="285.38" x2="537.0" y2="285.38" stroke="#a0a0a0" stroke-width="1"/>
<rect x="40.3" y="35.4" width="496.70" height="145.70" fill="none" stroke="#a0a0a0" stroke-width="1.1"/>
<rect x="40.3" y="189.0" width="496.70" height="128.50" fill="none" stroke="#a0a0a0" stroke-width="1.1"/>
<rect x="53" y="119.5" width="340.6" height="35.8" fill="#fff"/>
<line x1="53.9" y1="136.6" x2="68.6" y2="136.6" stroke="#44aadb" stroke-width="1.5"/>
<text transform="translate(70.55,143.50) scale(0.8256,1)" font-family="Liberation Serif, Times New Roman, serif" font-weight="bold" font-size="17.90" fill="#000" xml:space="preserve" style="white-space:pre" stroke="#000" stroke-width="0.45">Vdc=75V</text>
<line x1="133.1" y1="136.6" x2="147.9" y2="136.6" stroke="#ffa184" stroke-width="1.5"/>
<text transform="translate(149.55,143.50) scale(0.8307,1)" font-family="Liberation Serif, Times New Roman, serif" font-weight="bold" font-size="17.90" fill="#000" xml:space="preserve" style="white-space:pre" stroke="#000" stroke-width="0.45">Vdc=100V</text>
<line x1="219.9" y1="136.6" x2="234.8" y2="136.6" stroke="#ffd484" stroke-width="1.5"/>
<text transform="translate(237.35,143.50) scale(0.8182,1)" font-family="Liberation Serif, Times New Roman, serif" font-weight="bold" font-size="17.90" fill="#000" xml:space="preserve" style="white-space:pre" stroke="#000" stroke-width="0.45">Vdc=125V</text>
<line x1="306.9" y1="136.6" x2="322.0" y2="136.6" stroke="#bb7ecb" stroke-width="1.5"/>
<text transform="translate(323.95,143.50) scale(0.8257,1)" font-family="Liberation Serif, Times New Roman, serif" font-weight="bold" font-size="17.90" fill="#000" xml:space="preserve" style="white-space:pre" stroke="#000" stroke-width="0.45">Vdc=150V</text>
<text transform="translate(258.00,13.60) scale(0.8243,1)" font-family="Liberation Sans, Arial, Helvetica, sans-serif" font-weight="bold" font-size="10.80" fill="#000" xml:space="preserve" style="white-space:pre">Bode Diagram</text>
<text transform="translate(160.44,28.80) scale(0.8479,1)" font-family="Liberation Sans, Arial, Helvetica, sans-serif" font-weight="bold" font-size="10.60" fill="#000" xml:space="preserve" style="white-space:pre">Gm = Inf dB (at Inf rad/s) ,  Pm = 27.7 deg (at 8.62e+03 rad/s)</text>
<text transform="translate(245.64,354.00) scale(0.8616,1)" font-family="Liberation Sans, Arial, Helvetica, sans-serif" font-weight="bold" font-size="11.40" fill="#000" xml:space="preserve" style="white-space:pre">Frequency  (rad/s)</text>
<text transform="translate(17.80,154.35) rotate(-90) scale(1.2574,1)" font-family="Liberation Sans, Arial, Helvetica, sans-serif" font-weight="bold" font-size="10.00" fill="#000" xml:space="preserve" style="white-space:pre">Magnitude (dB)</text>
<text transform="translate(12.20,288.44) rotate(-90) scale(1.2468,1)" font-family="Liberation Sans, Arial, Helvetica, sans-serif" font-weight="bold" font-size="10.00" fill="#000" xml:space="preserve" style="white-space:pre">Phase (deg)</text>
<text transform="translate(25.54,40.90) scale(0.8300,1)" font-family="Liberation Sans, Arial, Helvetica, sans-serif" font-weight="normal" font-size="12.20" fill="#636363" xml:space="preserve" style="white-space:pre">40</text>
<text transform="translate(25.54,70.04) scale(0.8300,1)" font-family="Liberation Sans, Arial, Helvetica, sans-serif" font-weight="normal" font-size="12.20" fill="#636363" xml:space="preserve" style="white-space:pre">20</text>
<text transform="translate(31.16,99.18) scale(0.8300,1)" font-family="Liberation Sans, Arial, Helvetica, sans-serif" font-weight="normal" font-size="12.20" fill="#636363" xml:space="preserve" style="white-space:pre">0</text>
<text transform="translate(22.15,128.32) scale(0.8300,1)" font-family="Liberation Sans, Arial, Helvetica, sans-serif" font-weight="normal" font-size="12.20" fill="#636363" xml:space="preserve" style="white-space:pre">-20</text>
<text transform="translate(22.15,157.46) scale(0.8300,1)" font-family="Liberation Sans, Arial, Helvetica, sans-serif" font-weight="normal" font-size="12.20" fill="#636363" xml:space="preserve" style="white-space:pre">-40</text>
<text transform="translate(22.15,186.60) scale(0.8300,1)" font-family="Liberation Sans, Arial, Helvetica, sans-serif" font-weight="normal" font-size="12.20" fill="#636363" xml:space="preserve" style="white-space:pre">-60</text>
<text transform="translate(31.16,194.50) scale(0.8300,1)" font-family="Liberation Sans, Arial, Helvetica, sans-serif" font-weight="normal" font-size="12.20" fill="#636363" xml:space="preserve" style="white-space:pre">0</text>
<text transform="translate(22.17,226.62) scale(0.8300,1)" font-family="Liberation Sans, Arial, Helvetica, sans-serif" font-weight="normal" font-size="12.20" fill="#636363" xml:space="preserve" style="white-space:pre">-45</text>
<text transform="translate(22.15,258.75) scale(0.8300,1)" font-family="Liberation Sans, Arial, Helvetica, sans-serif" font-weight="normal" font-size="12.20" fill="#636363" xml:space="preserve" style="white-space:pre">-90</text>
<text transform="translate(16.98,290.88) scale(0.8300,1)" font-family="Liberation Sans, Arial, Helvetica, sans-serif" font-weight="normal" font-size="12.20" fill="#636363" xml:space="preserve" style="white-space:pre">-<tspan dx="0.49" letter-spacing="-1.10" font-family="NanumGothic, Liberation Sans, sans-serif" font-size="11.35">1</tspan>35</text>
<text transform="translate(16.96,323.00) scale(0.8300,1)" font-family="Liberation Sans, Arial, Helvetica, sans-serif" font-weight="normal" font-size="12.20" fill="#636363" xml:space="preserve" style="white-space:pre">-<tspan dx="0.49" letter-spacing="-1.10" font-family="NanumGothic, Liberation Sans, sans-serif" font-size="11.35">1</tspan>80</text>
<text transform="translate(31.83,338.60) scale(0.8017,1)" font-family="Liberation Sans, Arial, Helvetica, sans-serif" font-weight="normal" font-size="12.80" fill="#636363" xml:space="preserve" style="white-space:pre"><tspan dx="0.51" letter-spacing="-1.15" font-family="NanumGothic, Liberation Sans, sans-serif" font-size="11.90">1</tspan>0</text>
<text transform="translate(43.42,332.60) scale(1.0000,1)" font-family="Liberation Sans, Arial, Helvetica, sans-serif" font-weight="normal" font-size="8.60" fill="#636363" xml:space="preserve" style="white-space:pre"><tspan dx="0.34" letter-spacing="-0.77" font-family="NanumGothic, Liberation Sans, sans-serif" font-size="8.00">1</tspan></text>
<text transform="translate(155.31,338.60) scale(0.8564,1)" font-family="Liberation Sans, Arial, Helvetica, sans-serif" font-weight="normal" font-size="12.80" fill="#636363" xml:space="preserve" style="white-space:pre"><tspan dx="0.51" letter-spacing="-1.15" font-family="NanumGothic, Liberation Sans, sans-serif" font-size="11.90">1</tspan>0</text>
<text transform="translate(167.80,332.30) scale(0.6821,1)" font-family="Liberation Sans, Arial, Helvetica, sans-serif" font-weight="normal" font-size="8.70" fill="#636363" xml:space="preserve" style="white-space:pre">2</text>
<text transform="translate(279.61,338.60) scale(0.9020,1)" font-family="Liberation Sans, Arial, Helvetica, sans-serif" font-weight="normal" font-size="12.80" fill="#636363" xml:space="preserve" style="white-space:pre"><tspan dx="0.51" letter-spacing="-1.15" font-family="NanumGothic, Liberation Sans, sans-serif" font-size="11.90">1</tspan>0</text>
<text transform="translate(292.12,332.30) scale(0.8469,1)" font-family="Liberation Sans, Arial, Helvetica, sans-serif" font-weight="normal" font-size="8.70" fill="#636363" xml:space="preserve" style="white-space:pre">3</text>
<text transform="translate(404.35,338.60) scale(0.8382,1)" font-family="Liberation Sans, Arial, Helvetica, sans-serif" font-weight="normal" font-size="12.80" fill="#636363" xml:space="preserve" style="white-space:pre"><tspan dx="0.51" letter-spacing="-1.15" font-family="NanumGothic, Liberation Sans, sans-serif" font-size="11.90">1</tspan>0</text>
<text transform="translate(416.98,332.30) scale(0.6373,1)" font-family="Liberation Sans, Arial, Helvetica, sans-serif" font-weight="normal" font-size="8.70" fill="#636363" xml:space="preserve" style="white-space:pre">4</text>
<text transform="translate(528.19,338.60) scale(0.8655,1)" font-family="Liberation Sans, Arial, Helvetica, sans-serif" font-weight="normal" font-size="12.80" fill="#636363" xml:space="preserve" style="white-space:pre"><tspan dx="0.51" letter-spacing="-1.15" font-family="NanumGothic, Liberation Sans, sans-serif" font-size="11.90">1</tspan>0</text>
<text transform="translate(540.91,332.30) scale(0.8227,1)" font-family="Liberation Sans, Arial, Helvetica, sans-serif" font-weight="normal" font-size="8.70" fill="#636363" xml:space="preserve" style="white-space:pre">5</text>
</svg>
</body></html>
